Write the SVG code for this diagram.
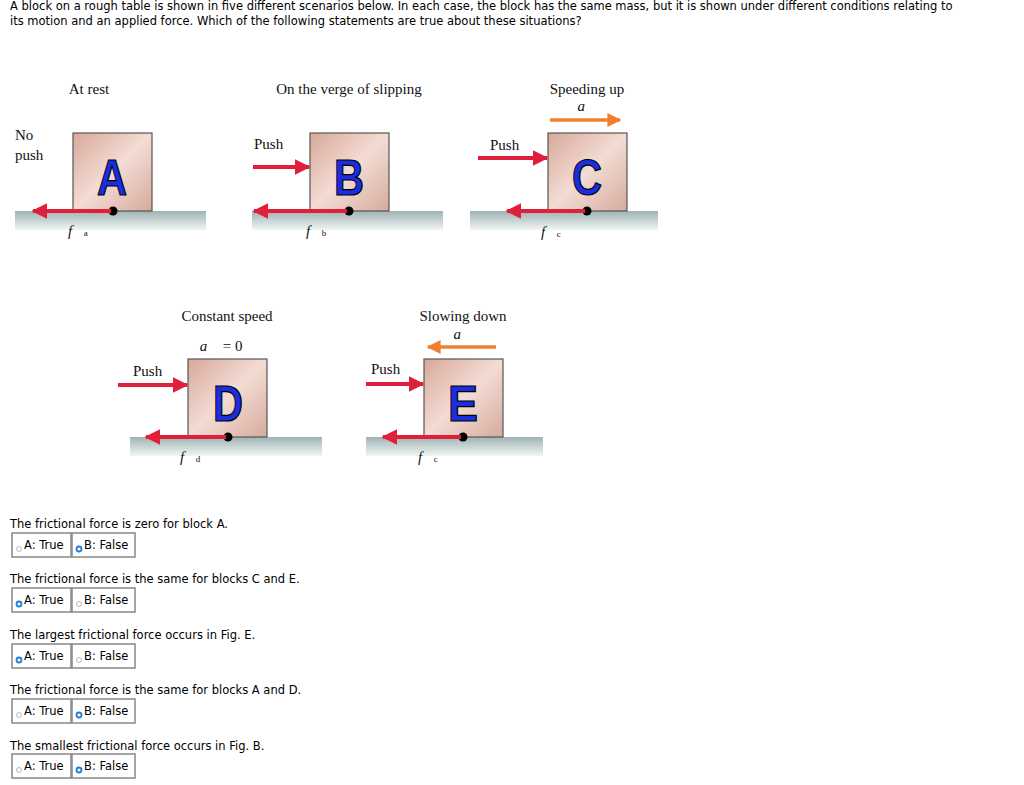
<svg xmlns="http://www.w3.org/2000/svg" width="1024" height="785" viewBox="0 0 1024 785">
<style>
.q{font-family:"DejaVu Sans",Verdana,sans-serif;font-size:11.5px;fill:#000}
.s{font-family:"Liberation Serif","Times New Roman",serif;font-size:15px;fill:#111}
.lt{font-family:"Liberation Sans",Arial,sans-serif;font-weight:bold;font-size:50px;fill:#1a2ee0;stroke:#000;stroke-width:1.2}
.blk{fill:url(#bg);stroke:#555;stroke-width:1.2}
.push{stroke:#e0203a;stroke-width:4;fill:none;marker-end:url(#ra)}
.fr{stroke:#e0203a;stroke-width:4;fill:none;marker-end:url(#ra)}
.acc{stroke:#f08030;stroke-width:3.5;fill:none;marker-end:url(#oa)}
.box{fill:#fff;stroke:#888;stroke-width:1.5}
</style>
<defs>
<linearGradient id="bg" x1="0" y1="0" x2="1" y2="1"><stop offset="0" stop-color="#d8a89a"/><stop offset="0.5" stop-color="#f3dcd4"/><stop offset="1" stop-color="#d6aa9c"/></linearGradient>
<linearGradient id="tg" x1="0" y1="0" x2="0" y2="1"><stop offset="0" stop-color="#9fb3b3"/><stop offset="1" stop-color="#f2f5f5"/></linearGradient>
<marker id="ra" viewBox="0 0 10 10" refX="9" refY="5" markerWidth="4" markerHeight="4" orient="auto"><path d="M0,0 L10,5 L0,10 z" fill="#e0203a"/></marker>
<marker id="oa" viewBox="0 0 10 10" refX="9" refY="5" markerWidth="4" markerHeight="4" orient="auto"><path d="M0,0 L10,5 L0,10 z" fill="#f08030"/></marker>
</defs>
<text class="q" x="10" y="10">A block on a rough table is shown in five different scenarios below. In each case, the block has the same mass, but it is shown under different conditions relating to</text>
<text class="q" x="10" y="25">its motion and an applied force. Which of the following statements are true about these situations?</text>

<rect x="15" y="211" width="191" height="19" fill="url(#tg)"/>
<rect x="252" y="211" width="191" height="19" fill="url(#tg)"/>
<rect x="470" y="211" width="188" height="19" fill="url(#tg)"/>
<rect x="130" y="437" width="192" height="19" fill="url(#tg)"/>
<rect x="366" y="437" width="177" height="19" fill="url(#tg)"/>

<g id="nodeA">
<text class="s" x="89" y="94" text-anchor="middle">At rest</text>
<text class="s" x="15" y="140">No</text><text class="s" x="15" y="160">push</text>
<rect class="blk" x="73" y="133" width="79" height="78"/>
<text class="lt" x="112" y="195" text-anchor="middle" textLength="30" lengthAdjust="spacingAndGlyphs">A</text>
<circle cx="113" cy="211" r="4.5"/>
<text class="s" x="68" y="236" font-style="italic">f⃗<tspan font-size="9" font-style="normal">a</tspan></text>
</g>
<g id="nodeB">
<text class="s" x="349" y="94" text-anchor="middle">On the verge of slipping</text>
<text class="s" x="254" y="149">Push</text>
<rect class="blk" x="310" y="133" width="79" height="78"/>
<text class="lt" x="349" y="195" text-anchor="middle" textLength="30" lengthAdjust="spacingAndGlyphs">B</text>
<circle cx="349" cy="211" r="4.5"/>
<text class="s" x="306" y="236" font-style="italic">f⃗<tspan font-size="9" font-style="normal">b</tspan></text>
</g>
<g id="nodeC">
<text class="s" x="587" y="94" text-anchor="middle">Speeding up</text>
<text class="s" x="587" y="111" text-anchor="middle" font-style="italic">a⃗</text>
<text class="s" x="490" y="150">Push</text>
<rect class="blk" x="548" y="133" width="79" height="78"/>
<text class="lt" x="587" y="195" text-anchor="middle" textLength="30" lengthAdjust="spacingAndGlyphs">C</text>
<circle cx="587" cy="211" r="4.5"/>
<text class="s" x="541" y="237" font-style="italic">f⃗<tspan font-size="9" font-style="normal">c</tspan></text>
</g>
<g id="nodeD">
<text class="s" x="227" y="321" text-anchor="middle">Constant speed</text>
<text class="s" x="227" y="351" text-anchor="middle"><tspan font-style="italic">a⃗</tspan> = 0⃗</text>
<text class="s" x="133" y="376">Push</text>
<rect class="blk" x="188" y="359" width="79" height="78"/>
<text class="lt" x="228" y="421" text-anchor="middle" textLength="30" lengthAdjust="spacingAndGlyphs">D</text>
<circle cx="228" cy="437" r="4.5"/>
<text class="s" x="180" y="462" font-style="italic">f⃗<tspan font-size="9" font-style="normal">d</tspan></text>
</g>
<g id="nodeE">
<text class="s" x="463" y="321" text-anchor="middle">Slowing down</text>
<text class="s" x="463" y="339" text-anchor="middle" font-style="italic">a⃗</text>
<text class="s" x="371" y="374">Push</text>
<rect class="blk" x="424" y="359" width="79" height="78"/>
<text class="lt" x="463" y="421" text-anchor="middle" textLength="30" lengthAdjust="spacingAndGlyphs">E</text>
<circle cx="463" cy="437" r="4.5"/>
<text class="s" x="418" y="462" font-style="italic">f⃗<tspan font-size="9" font-style="normal">c</tspan></text>
</g>

<g id="connectors">
<path class="fr" d="M111,211 H33"/>
<path class="push" d="M253,167 H309"/>
<path class="fr" d="M347,211 H254"/>
<path class="acc" d="M550,120 H620"/>
<path class="push" d="M478,158 H547"/>
<path class="fr" d="M585,211 H507"/>
<path class="push" d="M118,385 H187"/>
<path class="fr" d="M226,437 H146"/>
<path class="acc" d="M496,347 H428"/>
<path class="push" d="M366,384 H423"/>
<path class="fr" d="M461,437 H383"/>
</g>

<g id="questions">
<text class="q" x="10" y="528">The frictional force is zero for block A.</text>
<rect class="box" x="12" y="533" width="59" height="24"/><rect class="box" x="72" y="533" width="63" height="24"/>
<circle cx="19" cy="549" r="2.5" fill="none" stroke="#bbb"/><text class="q" x="24" y="549">A: True</text>
<circle cx="79" cy="549" r="2.5" fill="none" stroke="#1e7fd8" stroke-width="1.8"/><text class="q" x="84" y="549">B: False</text>

<text class="q" x="10" y="583">The frictional force is the same for blocks C and E.</text>
<rect class="box" x="12" y="588" width="59" height="24"/><rect class="box" x="72" y="588" width="63" height="24"/>
<circle cx="19" cy="604" r="2.5" fill="none" stroke="#1e7fd8" stroke-width="1.8"/><text class="q" x="24" y="604">A: True</text>
<circle cx="79" cy="604" r="2.5" fill="none" stroke="#bbb"/><text class="q" x="84" y="604">B: False</text>

<text class="q" x="10" y="639">The largest frictional force occurs in Fig. E.</text>
<rect class="box" x="12" y="644" width="59" height="24"/><rect class="box" x="72" y="644" width="63" height="24"/>
<circle cx="19" cy="660" r="2.5" fill="none" stroke="#1e7fd8" stroke-width="1.8"/><text class="q" x="24" y="660">A: True</text>
<circle cx="79" cy="660" r="2.5" fill="none" stroke="#bbb"/><text class="q" x="84" y="660">B: False</text>

<text class="q" x="10" y="694">The frictional force is the same for blocks A and D.</text>
<rect class="box" x="12" y="699" width="59" height="24"/><rect class="box" x="72" y="699" width="63" height="24"/>
<circle cx="19" cy="715" r="2.5" fill="none" stroke="#bbb"/><text class="q" x="24" y="715">A: True</text>
<circle cx="79" cy="715" r="2.5" fill="none" stroke="#1e7fd8" stroke-width="1.8"/><text class="q" x="84" y="715">B: False</text>

<text class="q" x="10" y="750">The smallest frictional force occurs in Fig. B.</text>
<rect class="box" x="12" y="754" width="59" height="24"/><rect class="box" x="72" y="754" width="63" height="24"/>
<circle cx="19" cy="770" r="2.5" fill="none" stroke="#bbb"/><text class="q" x="24" y="770">A: True</text>
<circle cx="79" cy="770" r="2.5" fill="none" stroke="#1e7fd8" stroke-width="1.8"/><text class="q" x="84" y="770">B: False</text>
</g>
</svg>
